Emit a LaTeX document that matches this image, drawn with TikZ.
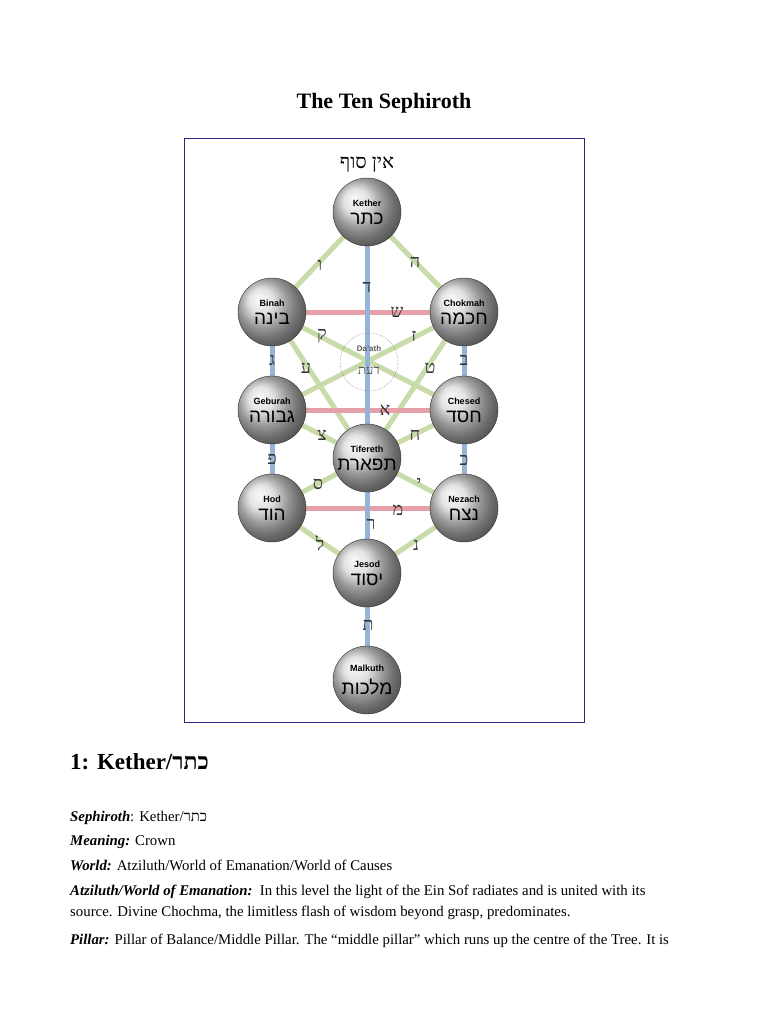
\documentclass[tikz,border=0pt]{standalone}
\usepackage{fontspec}
\setmainfont{Liberation Serif}
\setsansfont{Liberation Sans}
\newfontfamily\heb[Script=Hebrew]{Liberation Sans}
\newfontfamily\hebs[Script=Hebrew]{Liberation Serif}
\TeXXeTstate=1
\newcommand{\HB}[1]{{\heb\beginR #1\endR}}
\newcommand{\HS}[1]{{\hebs\beginR #1\endR}}
\newcommand{\SN}[2]{{\sffamily\bfseries\fontsize{9}{10}\selectfont #1}\\[6pt]{\fontsize{19}{20}\selectfont\HB{#2}}}
\begin{document}
\begin{tikzpicture}[x=1pt,y=-1pt,
  sph/.style={circle,minimum size=68pt,inner sep=0pt,ball color=gray!30,draw=gray!40!black,line width=0.4pt,align=center,font=\sffamily},
  gp/.style={draw={rgb,255:red,200;green,220;blue,170},line width=5pt},
  rp/.style={draw={rgb,255:red,230;green,160;blue,170},line width=5pt},
  bp/.style={draw={rgb,255:red,150;green,180;blue,215},line width=5pt},
  lt/.style={font=\hebs\fontsize{18}{18}\selectfont,text=black!80},
  body/.style={anchor=base west,font=\fontsize{14.8}{17}\selectfont,inner sep=0pt}]
\useasboundingbox (0,0) rectangle (768,1024);
\fill[white] (0,0) rectangle (768,1024);
\node[font=\bfseries\fontsize{22}{24}\selectfont] (title) at (384,103) {The Ten Sephiroth};
\draw[draw={rgb,255:red,40;green,40;blue,130},line width=1pt] (184,139) rectangle (584,722);
\coordinate (ke) at (367,212);
\coordinate (bi) at (272,312);
\coordinate (ch) at (464,312);
\coordinate (ge) at (272,410);
\coordinate (cs) at (464,410);
\coordinate (ti) at (367,458);
\coordinate (ho) at (272,508);
\coordinate (ne) at (464,508);
\coordinate (je) at (367,573);
\coordinate (ma) at (367,680);
\draw[gp] (ke)--(bi) (ke)--(ch) (bi)--(ti) (ch)--(ti) (bi)--(cs) (ch)--(ge)
  (ge)--(ti) (cs)--(ti) (ti)--(ho) (ti)--(ne) (ho)--(je) (ne)--(je);
\draw[rp] (bi)--(ch) (ge)--(cs) (ho)--(ne);
\draw[bp] (ke)--(ti) (ti)--(je) (je)--(ma) (bi)--(ge) (ge)--(ho) (ch)--(cs) (cs)--(ne);
\node[circle,draw=gray!70!black,densely dotted,minimum size=58pt,inner sep=0pt] (da) at (369,362) {};
\node[font=\sffamily\bfseries\fontsize{8}{8}\selectfont,text=gray!70!black] (dal) at (369,349) {Da'ath};
\node[font=\hebs\fontsize{13}{13}\selectfont,text=gray!70!black] (dah) at (369,371) {\beginR דעת\endR};
\node[sph] (Kether) at (ke) {\SN{Kether}{כתר}};
\node[sph] (Binah) at (bi) {\SN{Binah}{בינה}};
\node[sph] (Chokmah) at (ch) {\SN{Chokmah}{חכמה}};
\node[sph] (Geburah) at (ge) {\SN{Geburah}{גבורה}};
\node[sph] (Chesed) at (cs) {\SN{Chesed}{חסד}};
\node[sph] (Tifereth) at (ti) {\SN{Tifereth}{תפארת}};
\node[sph] (Hod) at (ho) {\SN{Hod}{הוד}};
\node[sph] (Nezach) at (ne) {\SN{Nezach}{נצח}};
\node[sph] (Jesod) at (je) {\SN{Jesod}{יסוד}};
\node[sph] (Malkuth) at (ma) {\SN{Malkuth}{מלכות}};
\node[font=\hebs\fontsize{20}{20}\selectfont] (einsof) at (367,165) {\beginR אין סוף\endR};
\node[lt] (l1) at (320,265) {ו};
\node[lt] (l2) at (415,262) {ה};
\node[lt] (l3) at (367,287) {ד};
\node[lt] (l4) at (397,312) {ש};
\node[lt] (l5) at (322,336) {ק};
\node[lt] (l6) at (414,336) {ז};
\node[lt] (l7) at (272,360) {ג};
\node[lt] (l8) at (464,360) {ב};
\node[lt] (l9) at (306,368) {ע};
\node[lt] (l10) at (430,368) {ט};
\node[lt] (l11) at (385,410) {א};
\node[lt] (l12) at (322,435) {צ};
\node[lt] (l13) at (415,435) {ח};
\node[lt] (l14) at (272,459) {פ};
\node[lt] (l15) at (464,460) {כ};
\node[lt] (l16) at (318,484) {ס};
\node[lt] (l17) at (419,483) {י};
\node[lt] (l18) at (398,510) {מ};
\node[lt] (l19) at (371,524) {ר};
\node[lt] (l20) at (320,543) {ל};
\node[lt] (l21) at (416,545) {נ};
\node[lt] (l22) at (368,625) {ת};
\node[anchor=base west,inner sep=0pt,font=\bfseries\fontsize{23}{26}\selectfont] (h1) at (70,769) {1: Kether/{\hebs\bfseries\beginR כתר\endR}};
\node[body] (t1) at (70,821) {\textbf{\textit{Sephiroth}}: Kether/\HS{כתר}};
\node[body] (t2) at (70,845) {\textbf{\textit{Meaning:}} Crown};
\node[body] (t3) at (70,870) {\textbf{\textit{World:}} Atziluth/World of Emanation/World of Causes};
\node[body] (t4) at (70,895) {\textbf{\textit{Atziluth/World of Emanation:}}\ \ In this level the light of the Ein Sof radiates and is united with its};
\node[body] (t5) at (70,916) {source. Divine Chochma, the limitless flash of wisdom beyond grasp, predominates.};
\node[body] (t6) at (70,944) {\textbf{\textit{Pillar:}} Pillar of Balance/Middle Pillar. The “middle pillar” which runs up the centre of the Tree. It is};
\end{tikzpicture}
\end{document}
